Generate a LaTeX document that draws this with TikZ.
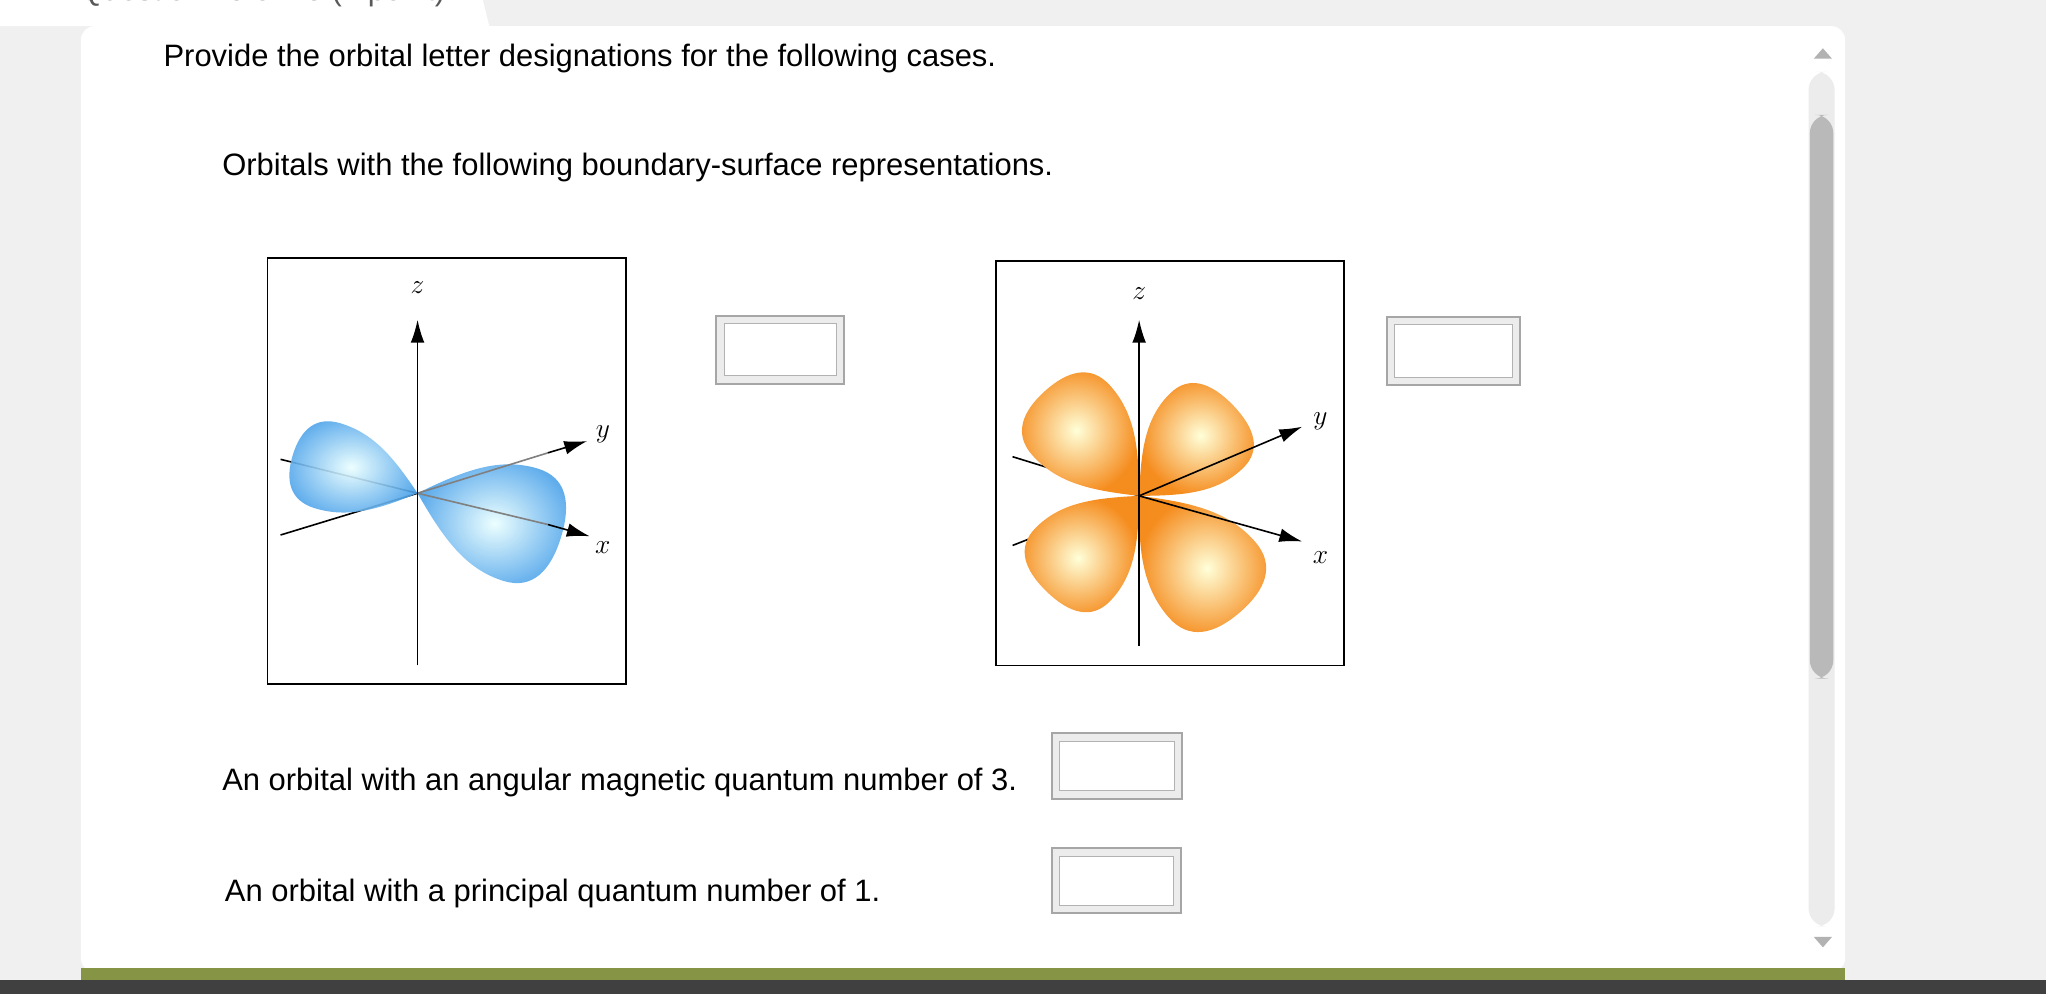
\documentclass[tikz,border=0pt]{standalone}
\usepackage{fontspec}
\setmainfont{Liberation Sans}
\usetikzlibrary{arrows.meta}
\definecolor{lobeblue}{RGB}{80,165,235}
\definecolor{lobeorange}{RGB}{245,140,30}
\newcommand{\lobepath}{(0,0) .. controls (0.25,0.3) and (0.45,0.5) .. (0.72,0.5) .. controls (0.92,0.5) and (1,0.3) .. (1,0) .. controls (1,-0.3) and (0.92,-0.5) .. (0.72,-0.5) .. controls (0.45,-0.5) and (0.25,-0.3) .. (0,0) -- cycle}
\newcommand{\mylobe}[7]{\begin{scope}[shift={#1},rotate=#2,xscale=#3,yscale=#4]\shade[inner color=#5,outer color=#6,fill opacity=#7] \lobepath;\end{scope}}
\begin{document}
\begin{tikzpicture}[x=0.02cm,y=-0.02cm,
  txt/.style={anchor=west,inner sep=0,font=\fontsize{13.5pt}{15pt}\selectfont},
  ax/.style={draw=black,line width=0.7pt},
  axarr/.style={ax,-{Latex[length=10pt,width=6pt]}},
  lab/.style={inner sep=0,font=\fontsize{13pt}{14pt}\selectfont},
  inbox/.style={draw=gray!70,fill=gray!15,line width=0.8pt}
]
\useasboundingbox (0,0) rectangle (1568,762);
\fill[gray!12] (0,0) rectangle (1568,762);
\fill[white,rounded corners=6] (62,20) rectangle (1414,745);
\fill[white] (0,0) -- (370,0) -- (375,20) -- (0,20) -- cycle;
\begin{scope}
\clip (0,0) rectangle (1568,762);
\node[txt,text=gray!70!black] (q) at (60,-6) {Question 15 of 15 (1 point)};
\end{scope}
% scrollbar
\fill[gray!15,rounded corners=8] (1386,55) rectangle (1406,710);
\fill[gray!55,rounded corners=8] (1387,88) rectangle (1405,520);
\fill[gray!60] (1390,45) -- (1404,45) -- (1397,37) -- cycle;
\fill[gray!60] (1390,718) -- (1404,718) -- (1397,726) -- cycle;
% bottom bars
\fill[olive!70!green!60!gray] (62,742) rectangle (1414,751);
\fill[black!75] (0,751) rectangle (1568,762);
% texts
\node[txt] (t1) at (125,45) {Provide the orbital letter designations for the following cases.};
\node[txt] (t2) at (170,128) {Orbitals with the following boundary-surface representations.};
\node[txt] (t3) at (170,600) {An orbital with an angular magnetic quantum number of 3.};
\node[txt] (t4) at (172,685) {An orbital with a principal quantum number of 1.};
% box 1
\draw[line width=0.8pt] (205,198) rectangle (480,524);
\coordinate (o1) at (320,378);
\draw[ax] (215,410) -- (o1);
\draw[ax] (215,352) -- (o1);
\mylobe{(o1)}{163}{100}{68}{cyan!8}{lobeblue}{0.9}
\mylobe{(o1)}{-17}{115}{90}{cyan!8}{lobeblue}{0.9}
\draw[ax,gray] (o1) -- (420,347);
\draw[ax,gray] (o1) -- (420,402);
\draw[axarr] (420,347) -- (450,338);
\draw[axarr] (420,402) -- (452,411);
\draw[axarr] (320,510) -- (320,245);
\node[lab] (z1) at (320,220) {$z$};
\node[lab] (y1) at (462,333) {$y$};
\node[lab] (x1) at (462,420) {$x$};
% box 2
\draw[line width=0.8pt] (763,200) rectangle (1030,510);
\coordinate (o2) at (873,380);
\draw[ax] (776,418) -- (o2);
\draw[ax] (776,350) -- (o2);
\mylobe{(o2)}{44}{100}{80}{yellow!15}{lobeorange}{1}
\mylobe{(o2)}{132}{108}{80}{yellow!15}{lobeorange}{1}
\mylobe{(o2)}{226}{102}{80}{yellow!15}{lobeorange}{1}
\mylobe{(o2)}{-49}{118}{88}{yellow!15}{lobeorange}{1}
\draw[axarr] (o2) -- (998,327);
\draw[axarr] (o2) -- (998,415);
\draw[axarr] (873,495) -- (873,245);
\node[lab] (z2) at (873,225) {$z$};
\node[lab] (y2) at (1012,323) {$y$};
\node[lab] (x2) at (1012,427) {$x$};
% input boxes
\foreach \a/\b/\c/\d in {549/242/647/294, 1063/243/1165/295, 806/562/906/612, 806/650/905/700}{
  \draw[inbox] (\a,\b) rectangle (\c,\d);
  \draw[fill=white,draw=gray!60] (\a+6,\b+6) rectangle (\c-6,\d-6);
}
\end{tikzpicture}
\end{document}
